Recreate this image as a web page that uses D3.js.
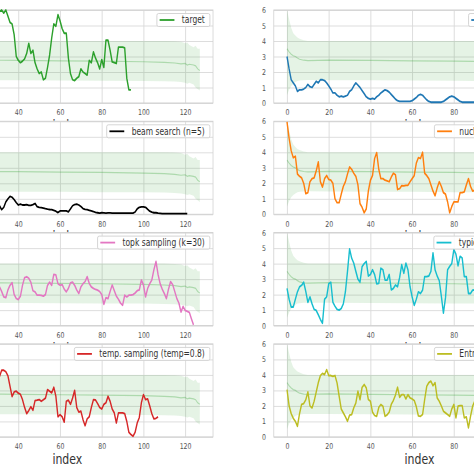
<!DOCTYPE html>
<html>
<head>
<meta charset="utf-8">
<script src="https://cdn.jsdelivr.net/npm/d3@7"></script>
<style>
    body { margin: 0; background: #fff; }
    svg { display: block; font-family: "DejaVu Sans", sans-serif; }
</style>
</head>
<body>
<svg id="chart"></svg>
<script>
// reference band (mean and spread), read at a few indices
const bandIndex = [0, 1, 2, 3, 4, 5, 6, 8, 10, 20, 40, 60, 80, 100, 110, 115, 118, 120, 121, 122, 124, 125, 126, 127];
const bandUpper = [6.0, 5.4, 4.85, 4.5, 4.35, 4.22, 4.15, 4.05, 4.0, 4.0, 4.0, 4.0, 4.0, 4.0, 4.0, 3.98, 3.95, 3.85, 3.9, 3.75, 3.6, 3.7, 3.5, 3.5];
const bandMean = [3.5, 3.3, 3.15, 3.05, 3.0, 2.9, 2.82, 2.76, 2.74, 2.77, 2.75, 2.72, 2.7, 2.66, 2.62, 2.58, 2.52, 2.55, 2.45, 2.5, 2.45, 2.4, 2.2, 2.1];
const bandLower = [0.5, 0.85, 1.1, 1.25, 1.35, 1.42, 1.45, 1.47, 1.48, 1.47, 1.46, 1.45, 1.43, 1.42, 1.4, 1.38, 1.35, 1.3, 1.25, 1.3, 1.2, 1.0, 0.9, 0.8];

// left column (only index >= 31 is inside the picture)
const leftStart = 31;
const targetValues = [5.9, 6.0, 5.8, 6.0, 5.6, 5.2, 5.1, 4.4, 3.0, 2.75, 2.6, 2.7, 2.85, 3.2, 3.85, 3.2, 3.4, 2.6, 2.2, 1.9,
    2.0, 1.5, 1.6, 2.3, 3.1, 4.2, 5.1, 4.95, 5.7, 5.3, 4.8, 4.5, 4.5, 2.9, 1.9, 1.5, 1.45, 1.6, 1.7, 2.2,
    2.0, 1.9, 1.8, 2.75, 2.6, 3.3, 2.9, 2.6, 2.2, 2.8, 2.3, 4.05, 4.05, 3.4, 2.65, 2.6, 2.55, 3.6, 3.6, 3.6,
    3.55, 1.6, 0.85, 0.85];
const beamValues = [0.55, 0.3, 0.45, 0.8, 1.0, 1.16, 1.1, 0.95, 0.75, 0.6, 0.65, 0.6, 0.6, 0.62, 0.58, 0.58, 0.62, 0.7, 0.5, 0.45,
    0.43, 0.4, 0.36, 0.33, 0.31, 0.3, 0.25, 0.2, 0.11, 0.22, 0.22, 0.22, 0.22, 0.16, 0.35, 0.55, 0.63, 0.65, 0.6, 0.5,
    0.37, 0.32, 0.3, 0.26, 0.22, 0.18, 0.12, 0.1, 0.08, 0.1, 0.09, 0.08, 0.09, 0.09, 0.08, 0.08, 0.08, 0.07, 0.07, 0.08,
    0.08, 0.07, 0.07, 0.07, 0.08, 0.15, 0.35, 0.45, 0.48, 0.48, 0.45, 0.32, 0.2, 0.14, 0.1, 0.1, 0.07, 0.06, 0.05, 0.05,
    0.05, 0.05, 0.05, 0.05, 0.05, 0.05, 0.05, 0.05, 0.05, 0.05, 0.05];
const topkValues = [2.5, 2.2, 1.85, 1.8, 2.3, 2.6, 2.77, 2.0, 1.75, 1.68, 1.9, 2.6, 3.1, 3.15, 3.05, 2.8, 2.25, 2.18, 1.96, 1.96,
    1.95, 1.9, 2.0, 2.6, 2.8, 2.6, 3.3, 3.27, 2.7, 2.6, 2.65, 2.35, 2.18, 2.4, 2.75, 2.8, 2.6, 2.3, 2.07, 2.5,
    2.7, 2.84, 3.16, 2.72, 2.5, 2.4, 2.33, 2.29, 2.2, 2.0, 1.37, 1.8, 1.74, 2.2, 2.62, 2.25, 1.9, 1.7, 1.45, 1.31,
    1.96, 1.85, 1.96, 1.96, 2.0, 2.1, 2.25, 2.3, 2.94, 2.62, 1.85, 2.4, 2.7, 2.94, 3.6, 4.14, 3.3, 2.7, 2.35, 2.07,
    1.74, 2.35, 2.84, 2.65, 2.2, 1.75, 1.45, 0.87, 1.24, 0.98, 0.92, 0.85, 0.44, 0.05];
const tempValues = [3.9, 4.3, 4.3, 4.2, 3.95, 3.27, 2.6, 2.9, 2.95, 2.82, 2.75, 2.4, 1.9, 1.5, 1.7, 1.95, 1.72, 2.34, 2.37, 2.41,
    2.3, 2.4, 2.5, 3.05, 2.95, 2.84, 3.2, 2.62, 1.3, 1.44, 1.3, 0.95, 2.3, 2.37, 2.1, 2.5, 3.0, 1.9, 1.6, 1.66,
    1.12, 0.72, 1.16, 1.3, 1.9, 2.4, 2.38, 2.15, 1.9, 1.8, 2.1, 2.2, 2.62, 2.3, 1.8, 1.55, 0.9, 1.55, 1.55, 1.55,
    1.5, 1.0, 0.3, 0.15, 0.04, 0.3, 0.9, 1.25, 2.2, 2.73, 2.4, 2.45, 2.0, 1.5, 1.16, 1.2, 1.29];

// right column (index 0 .. 91 is inside the picture)
const rightStart = 0;
const greedyValues = [3.0, 2.2, 1.5, 1.3, 1.1, 0.75, 0.85, 0.85, 0.9, 1.0, 1.2, 1.05, 1.0, 1.2, 1.4, 1.3, 1.5, 1.5, 1.45, 1.3,
    1.1, 0.9, 0.65, 0.65, 0.5, 0.4, 0.45, 0.4, 0.45, 0.5, 0.75, 0.85, 1.1, 1.3, 1.15, 1.0, 0.8, 0.6, 0.4, 0.3,
    0.25, 0.3, 0.25, 0.4, 0.5, 0.65, 0.75, 0.85, 0.8, 0.7, 0.55, 0.4, 0.25, 0.15, 0.1, 0.1, 0.1, 0.1, 0.1, 0.1,
    0.15, 0.25, 0.35, 0.5, 0.55, 0.5, 0.35, 0.2, 0.1, 0.05, 0.05, 0.05, 0.05, 0.05, 0.05, 0.1, 0.2, 0.3, 0.4, 0.45,
    0.4, 0.3, 0.2, 0.1, 0.05, 0.05, 0.05, 0.05, 0.05, 0.05, 0.05, 0.05];
const nucleusValues = [5.96, 4.9, 4.1, 3.65, 3.75, 2.6, 2.45, 2.35, 2.0, 1.33, 1.4, 2.1, 2.3, 2.35, 2.8, 3.38, 2.1, 1.76, 2.3, 2.5,
    2.25, 2.2, 2.0, 1.0, 0.75, 0.75, 1.3, 1.8, 2.1, 2.6, 3.05, 2.9, 2.65, 2.45, 1.9, 0.69, 0.45, 0.1, 0.35, 1.5,
    2.2, 2.5, 3.6, 3.98, 2.9, 2.3, 2.3, 2.2, 2.15, 2.1, 2.4, 2.65, 2.55, 1.6, 1.65, 1.85, 1.83, 1.87, 1.87, 2.1,
    2.3, 2.5, 3.3, 3.65, 3.6, 4.0, 2.65, 2.5, 2.3, 1.9, 1.5, 1.2, 1.7, 2.1, 1.8, 1.4, 1.3, 0.8, 0.1, 0.5,
    0.8, 0.8, 0.8, 1.4, 1.4, 1.45, 1.9, 2.3, 1.8, 1.5, 1.55, 1.6];
const typicalValues = [2.4, 1.7, 1.2, 1.2, 1.7, 2.18, 2.5, 2.6, 2.8, 2.2, 1.5, 1.85, 1.4, 1.05, 0.98, 0.7, 0.4, 0.15, 1.7, 1.85,
    2.7, 2.8, 1.5, 1.25, 1.05, 1.0, 1.1, 1.4, 2.18, 3.5, 4.95, 4.35, 4.03, 3.5, 3.0, 2.8, 3.8, 4.0, 4.14, 3.2,
    3.3, 3.6, 3.3, 2.7, 2.72, 3.7, 3.6, 2.94, 2.94, 3.3, 2.3, 2.4, 2.62, 2.5, 3.1, 3.93, 3.38, 4.03, 3.6, 2.5,
    1.85, 1.31, 1.7, 2.18, 2.07, 2.29, 3.16, 3.16, 3.2, 3.5, 4.69, 3.6, 3.2, 2.9, 1.9, 0.81, 1.8, 3.6, 3.82, 4.0,
    4.91, 4.6, 3.86, 4.47, 4.36, 3.16, 3.16, 2.07, 2.07, 2.29, 2.3, 2.3];
const entmaxValues = [3.05, 2.0, 1.5, 1.2, 1.0, 0.69, 1.5, 2.1, 2.15, 2.4, 2.9, 2.0, 1.87, 2.3, 2.9, 3.5, 3.95, 4.1, 4.02, 4.34,
    3.95, 3.96, 3.91, 3.96, 3.48, 2.62, 1.8, 1.55, 1.3, 1.01, 1.4, 1.44, 1.87, 2.19, 2.95, 2.4, 3.2, 3.38, 3.16, 2.41,
    2.3, 1.6, 1.38, 1.33, 1.9, 2.09, 1.98, 1.33, 1.42, 1.6, 2.1, 2.35, 2.7, 3.2, 2.55, 2.73, 2.73, 2.45, 2.73, 2.52,
    2.45, 2.35, 1.95, 1.35, 1.33, 1.44, 2.41, 3.27, 3.5, 3.6, 3.3, 3.5, 2.52, 2.3, 2.0, 1.66, 1.55, 1.45, 1.33, 1.8,
    2.09, 1.23, 1.98, 2.02, 2.02, 1.23, 1.29, 0.58, 1.33, 1.98, 2.3, 2.4];

const leftLabels = ["target", "beam search (n=5)", "topk sampling (k=30)", "temp. sampling (temp=0.8)"];
const rightLabels = ["greedy decoding", "nucleus sampling (p=0.9)", "typical sampling (τ=0.95)", "Entmax sampling (α=1.5)"];
const leftColors = ["#2ca02c", "#000000", "#e377c2", "#d62728"];
const rightColors = ["#1f77b4", "#ff7f0e", "#17becf", "#bcbd22"];

const xTicks = [0, 20, 40, 60, 80, 100, 120];
const yTicks = [0, 1, 2, 3, 4, 5, 6];

// the source figure was squeezed sideways, so draw wide and scale x
const sx = 0.78;
const colLeft = [-100.4, 351.0];
const rowTop = [10, 121.3, 232.6, 343.9];
const axW = 373.5, axH = 93;

const svg = d3.select("#chart")
    .attr("width", 474)
    .attr("height", 474);

const root = svg.append("g")
    .attr("transform", `scale(${sx},1)`);

const x = d3.scaleLinear().domain([-6.35, 133.35]).range([0, axW]);
const y = d3.scaleLinear().domain([0, 6]).range([axH, 0]);

const band = bandIndex.map((d, i) => ({ i: d, lo: bandLower[i], hi: bandUpper[i], m: bandMean[i] }));

const left = [targetValues, beamValues, topkValues, tempValues];
const right = [greedyValues, nucleusValues, typicalValues, entmaxValues];

function drawPanel(col, row, values, start, label, colour) {
    const g = root.append("g")
        .attr("transform", `translate(${colLeft[col]},${rowTop[row]})`);

    // white axes background (hides the xlabel of the row above)
    g.append("rect")
        .attr("width", axW)
        .attr("height", axH)
        .attr("fill", "#fff");

    // grid + tick labels
    g.append("g")
        .attr("class", "xAxis")
        .attr("transform", `translate(0,${axH})`)
        .call(d3.axisBottom(x).tickValues(xTicks).tickSize(-axH).tickPadding(6.8));

    g.append("g")
        .attr("class", "yAxis")
        .call(d3.axisLeft(y).tickValues(yTicks).tickSize(-axW).tickPadding(10).tickFormat(d3.format("d")));

    g.selectAll(".domain").remove();
    g.selectAll(".tick line").attr("stroke", "#d9d9d9").attr("stroke-width", 1);
    g.selectAll(".tick text")
        .attr("fill", "#555")
        .attr("font-size", 8)
        .attr("font-family", "DejaVu Sans, sans-serif");

    // reference band
    g.append("path")
        .datum(band)
        .attr("fill", "#2ca02c")
        .attr("fill-opacity", 0.12)
        .attr("d", d3.area().x(d => x(d.i)).y0(d => y(d.lo)).y1(d => y(d.hi)));

    g.append("path")
        .datum(band)
        .attr("fill", "none")
        .attr("stroke", "#2ca02c")
        .attr("stroke-opacity", 0.3)
        .attr("stroke-width", 1.2)
        .attr("d", d3.line().x(d => x(d.i)).y(d => y(d.m)));

    // frame
    g.append("rect")
        .attr("width", axW)
        .attr("height", axH)
        .attr("fill", "none")
        .attr("stroke", "#d0d0d0");

    // series
    g.append("path")
        .datum(values)
        .attr("fill", "none")
        .attr("stroke", colour)
        .attr("stroke-width", 1.8)
        .attr("stroke-linejoin", "round")
        .attr("d", d3.line().x((d, i) => x(start + i)).y(d => y(d)));

    // legend
    const lg = g.append("g");
    const box = lg.append("rect")
        .attr("height", 13)
        .attr("rx", 2)
        .attr("fill", "#fff")
        .attr("fill-opacity", 0.85)
        .attr("stroke", "#d0d0d0");
    lg.append("line")
        .attr("x1", 3.5).attr("x2", 22.5)
        .attr("y1", 6.5).attr("y2", 6.5)
        .attr("stroke", colour)
        .attr("stroke-width", 1.8);
    const t = lg.append("text")
        .attr("x", 32)
        .attr("y", 9.9)
        .attr("font-size", 9.7)
        .attr("fill", "#333")
        .text(label);
    const bw = 32 + t.node().getComputedTextLength() + 6.5;
    box.attr("width", bw);
    lg.attr("transform", `translate(${axW - 4 - bw},3.5)`);

    // xlabel (only the bottom row shows it in full)
    g.append("text")
        .attr("x", axW / 2)
        .attr("y", axH + 27)
        .attr("text-anchor", "middle")
        .attr("font-size", 14)
        .attr("fill", "#333")
        .text("index");
}

for (let r = 0; r < 4; r++) {
    drawPanel(0, r, left[r], leftStart, leftLabels[r], leftColors[r]);
    drawPanel(1, r, right[r], rightStart, rightLabels[r], rightColors[r]);
}
</script>
</body>
</html>
